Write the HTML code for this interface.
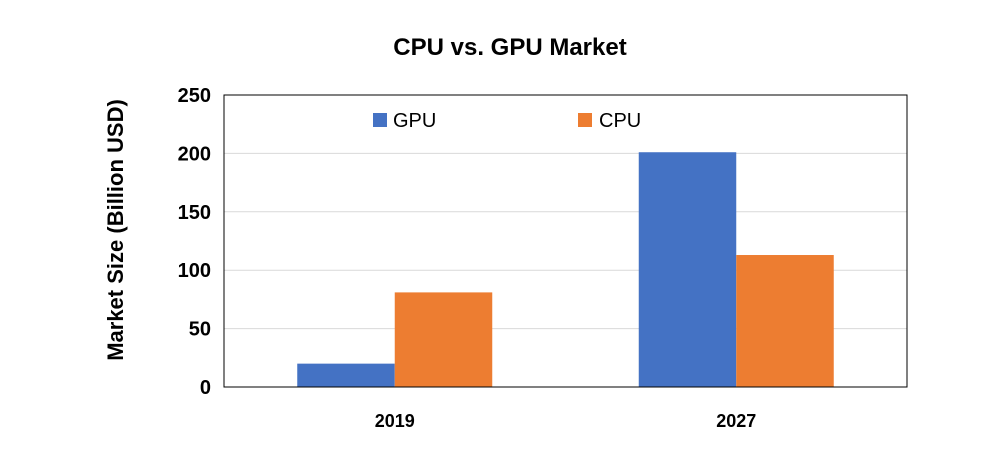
<!DOCTYPE html>
<html><head><meta charset="utf-8"><style>
body{margin:0;background:#fff;}
svg{display:block;font-family:"Liberation Sans",sans-serif;}
</style></head><body>
<svg id="chart" width="988" height="476">
<text x="510" y="55" text-anchor="middle" font-size="24" font-weight="bold">CPU vs. GPU Market</text>
<text transform="translate(123,230) rotate(-90)" text-anchor="middle" font-size="22" font-weight="bold">Market Size (Billion USD)</text>
<g id="grid"></g><g id="bars"></g>
<rect x="224" y="95" width="683" height="292" fill="none" stroke="#000" stroke-width="1"/>
<g>
<rect x="373" y="113" width="14" height="14" fill="#4472C4"/>
<text x="393" y="127" font-size="20">GPU</text>
<rect x="578" y="113" width="14" height="14" fill="#ED7D31"/>
<text x="599" y="127" font-size="20">CPU</text>
</g>
</svg>
<script>
const categories=["2019","2027"];
const gpuValues=[20,201];
const cpuValues=[81,113];
const yTicks=[0,50,100,150,200,250];
const NS="http://www.w3.org/2000/svg";
const L=224,R=907,T=95,B=387,YMAX=250;
const y=v=>B-(v/YMAX)*(B-T);
const bw=(R-L)/categories.length;
const xc=i=>L+bw*(i+0.5);
const barW=97.5;
function mk(t,a,p){const e=document.createElementNS(NS,t);for(const k in a)e.setAttribute(k,a[k]);p.appendChild(e);return e;}
const grid=document.getElementById('grid'),bars=document.getElementById('bars');
yTicks.forEach(v=>{
 const l=mk('line',{x1:L,x2:R,y1:y(v),y2:y(v),stroke:'#d9d9d9'},grid);
 
 
 const t=mk('text',{x:L-13,y:y(v)+7,'text-anchor':'end','font-size':20,'font-weight':'bold'},grid);
 t.textContent=v;
 
 
});
categories.forEach((c,i)=>{
 const g=mk('rect',{x:xc(i)-barW,y:y(gpuValues[i]),width:barW,height:B-y(gpuValues[i]),fill:'#4472C4'},bars);
 
 
 const p=mk('rect',{x:xc(i),y:y(cpuValues[i]),width:barW,height:B-y(cpuValues[i]),fill:'#ED7D31'},bars);
 
 
 const t=mk('text',{x:xc(i),y:427,'text-anchor':'middle','font-size':18,'font-weight':'bold'},bars);
 t.textContent=c;
 
 
});
</script>
</body></html>
